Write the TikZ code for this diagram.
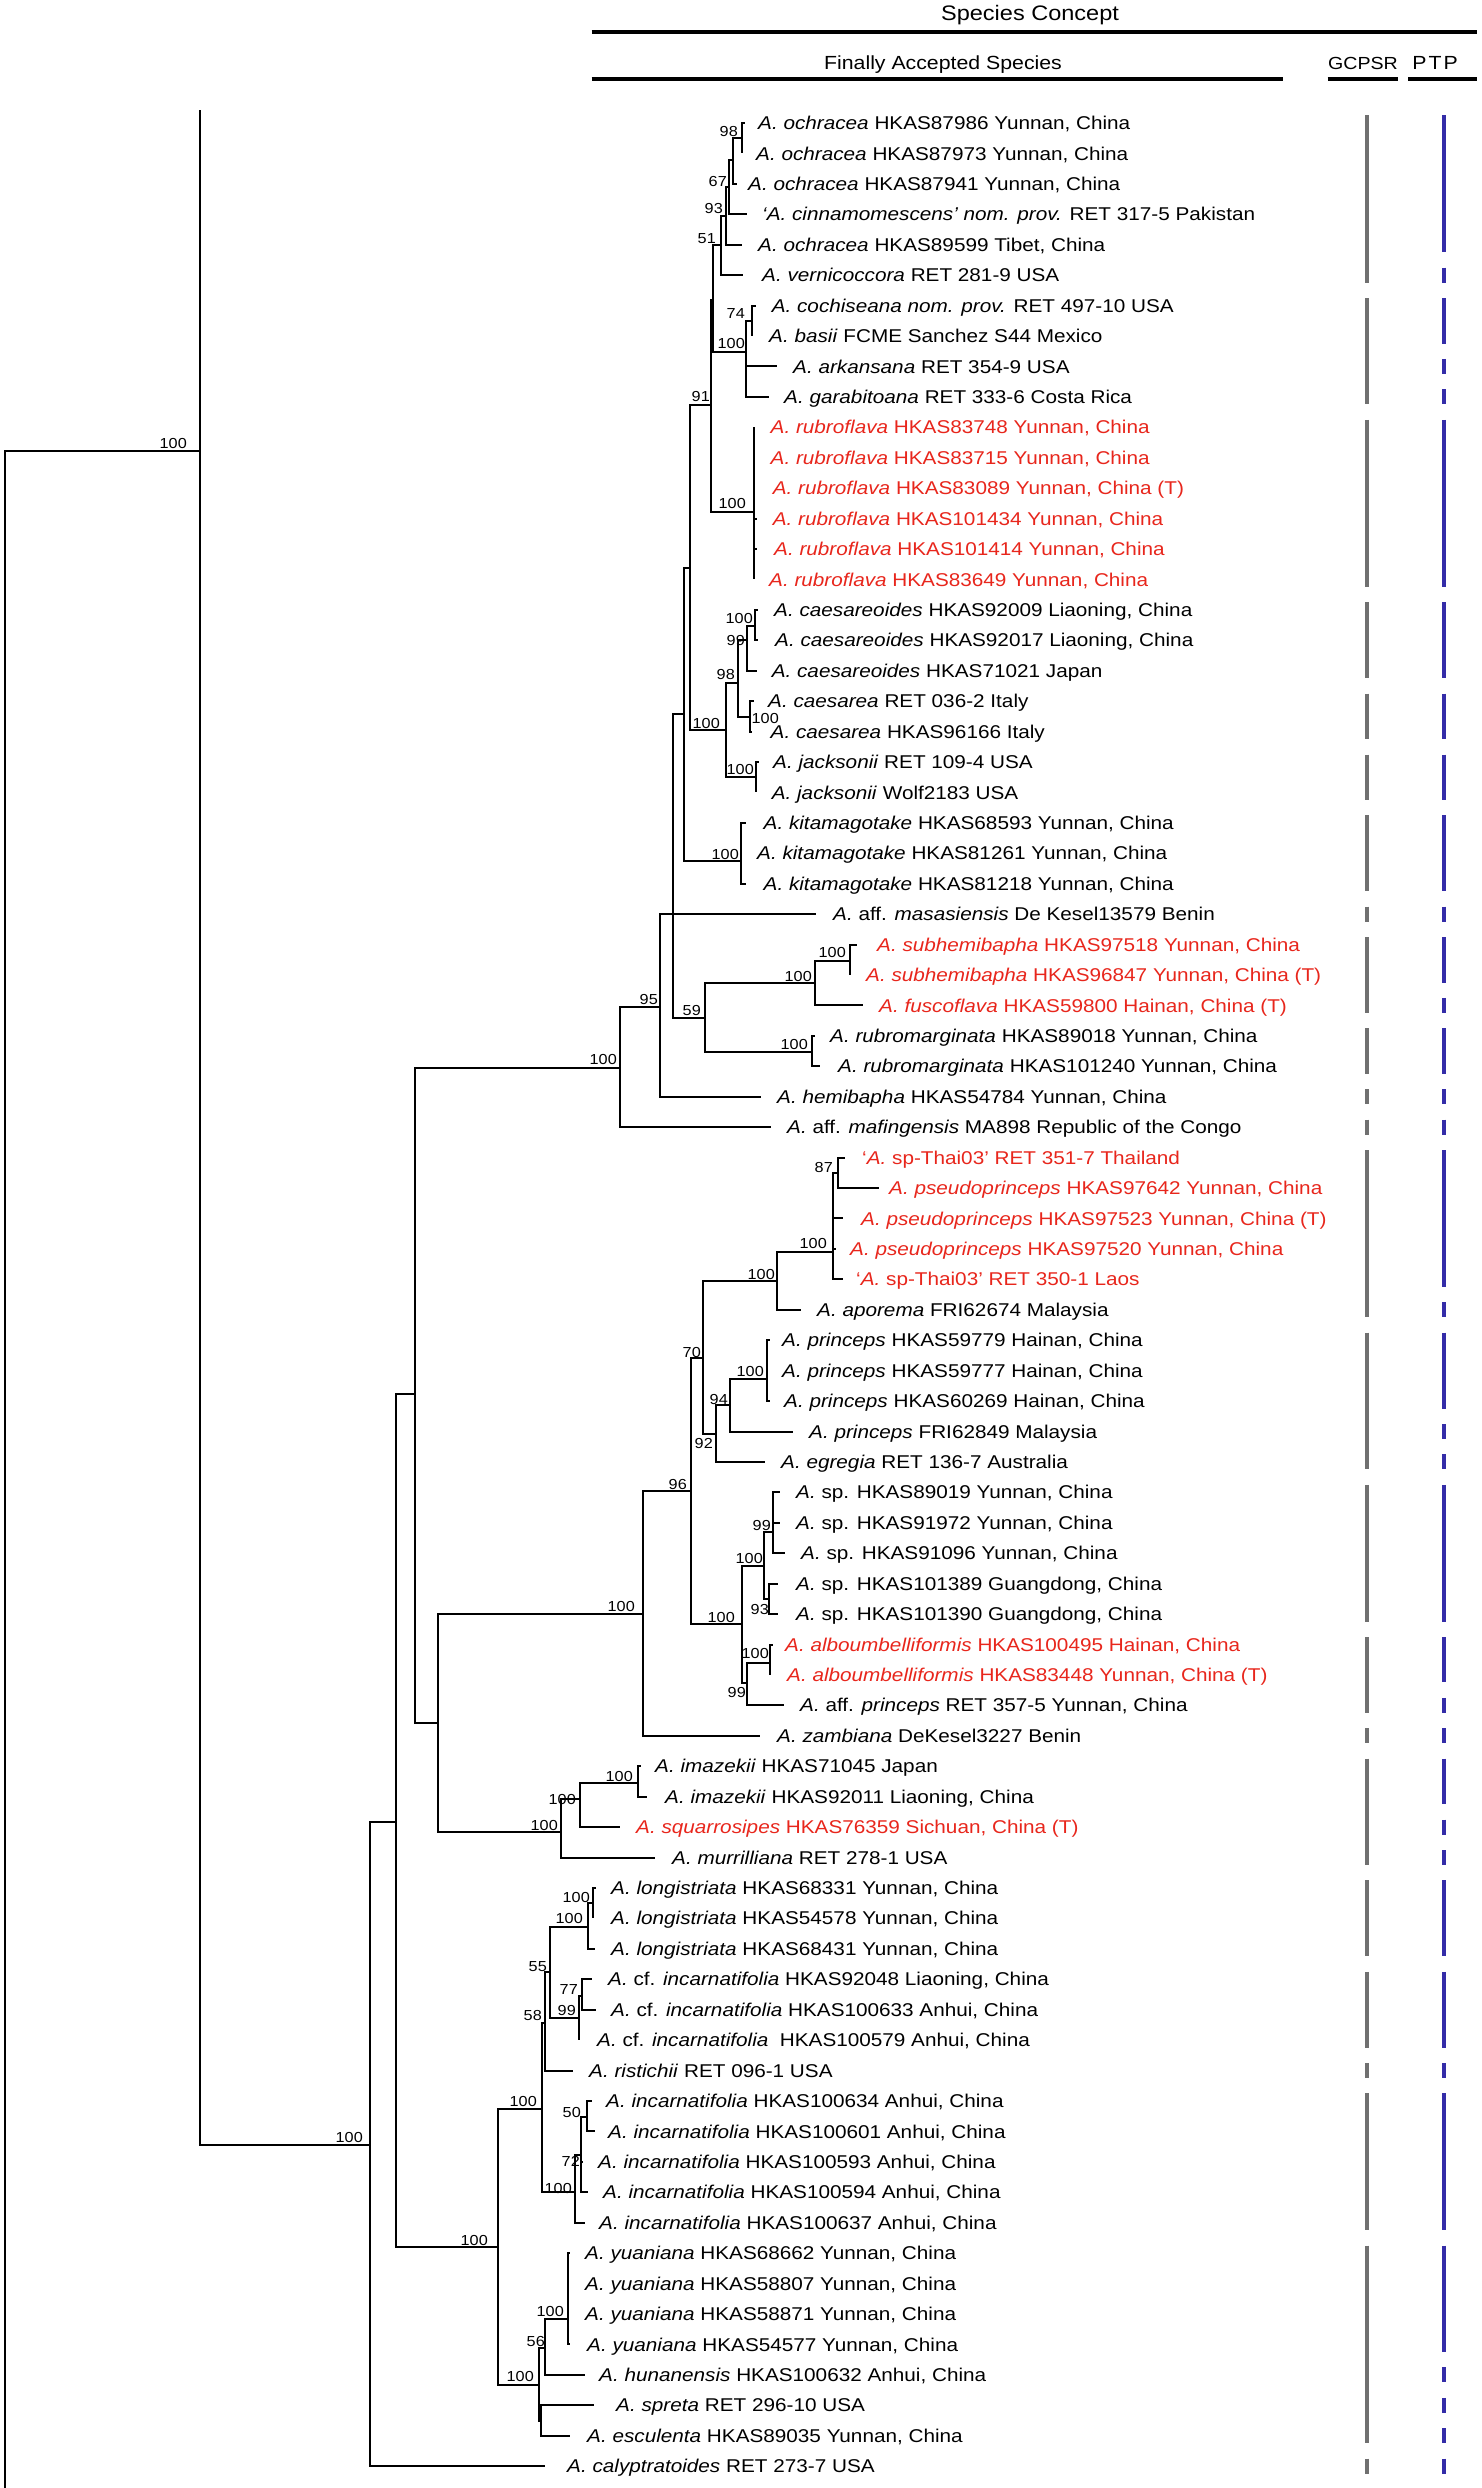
\documentclass[tikz,border=0pt]{standalone}
\usepackage{fontspec}
\setmainfont{Liberation Sans}[FakeStretch=1.12]
\definecolor{tred}{RGB}{232,38,28}
\definecolor{gcol}{RGB}{112,112,112}
\definecolor{pcol}{RGB}{52,44,168}
\newcommand\rowy[1]{123+(#1-1)*30.43}
\newcommand\mkleaf[4][black]{\node[lab,text=#1] (L#2) at (#3,{\rowy{#2}+6.6}) {#4};}
\newcommand\mktip[2]{\coordinate (T#1) at (#2,{\rowy{#1}});}
\newcommand\mknode[3]{\coordinate (#1) at (#2,#3);}
\newcommand\mkkids[2]{\foreach \kid in {#2}{\draw[br] (#1) |- (\kid);}}
\newcommand\mksup[4]{\node[suplab] (#1) at (#2,{#3+5.2}) {#4};}
\newcommand\mkbar[4]{\draw[#1] (#2,{\rowy{#3}-7.5}) -- (#2,{\rowy{#4}+7.5});}
\begin{document}
\begin{tikzpicture}[x=1pt,y=-1pt,
  br/.style={line width=2pt,line join=miter},
  lab/.style={anchor=base west,inner sep=0pt,font=\fontsize{18.5}{21}\selectfont},
  suplab/.style={anchor=base east,inner sep=0pt,font=\fontsize{14.5}{16}\selectfont},
  hd1/.style={anchor=base,inner sep=0pt,font=\fontsize{21}{24}\selectfont},
  hd2/.style={anchor=base,inner sep=0pt,font=\fontsize{19}{21}\selectfont},
  hl/.style={line width=4.5pt},
  gbar/.style={line width=3.8pt,gcol},
  pbar/.style={line width=3.8pt,pcol}]
\useasboundingbox (0,0) rectangle (1482,2488);
\fill[white] (0,0) rectangle (1482,2488);

% ---------- header ----------
\node[hd1] (hSC) at (1030,21) {Species Concept};
\node[hd2] (hFA) at (943,70) {Finally Accepted Species};
\node[hd2,font=\fontsize{17.5}{20}\selectfont] (hG) at (1363,70) {GCPSR};
\node[hd2] (hP) at (1435,70) {P\hspace{2pt}T\hspace{2pt}P};
\draw[hl] (591.5,32) -- (1477,32);
\draw[hl] (591.5,79) -- (1283,79);
\draw[hl] (1327.5,79) -- (1398,79);
\draw[hl] (1408,79) -- (1477,79);

% ---------- internal nodes ----------
\mknode{R0}{5}{2488}
\mknode{N200}{200}{451}
\mknode{Ntop}{200}{110}
\mknode{N370}{370}{2145}
\mknode{N396}{396}{1822}
\mknode{N415}{415}{1394}
\mknode{N620}{620}{1068}
\mknode{N660}{660}{1007}
\mknode{N673}{673}{914.2}
\mknode{N683}{683.5}{714}
\mknode{N690}{690}{567.5}
\mknode{N711}{711}{405}
\mknode{N713}{713}{300}
\mknode{N720}{720.7}{245.5}
\mknode{N726a}{726}{216}
\mknode{N729}{729}{187}
\mknode{N733}{733}{160.5}
\mknode{N742}{742}{138}
\mknode{N746}{746}{352}
\mknode{N752}{752}{321}
\mknode{N754}{754}{512}
\mknode{N726}{726}{730}
\mknode{N738}{738}{683}
\mknode{N747}{747}{640}
\mknode{N755}{755}{626}
\mknode{N750}{750}{717}
\mknode{N756}{756}{777}
\mknode{N741}{741}{861}
\mknode{N705}{705}{1018}
\mknode{N815}{815}{983}
\mknode{N850}{850}{961}
\mknode{N812}{812}{1052}
\mknode{N438}{438}{1723}
\mknode{N643}{643}{1614}
\mknode{N691}{691}{1491}
\mknode{N703}{703}{1358}
\mknode{N777}{777}{1281}
\mknode{N833}{833}{1252}
\mknode{N838}{838}{1173}
\mknode{N716}{716}{1434}
\mknode{N730}{730}{1405}
\mknode{N767}{767}{1379}
\mknode{N742b}{742}{1624}
\mknode{N764}{764}{1566}
\mknode{N773}{773}{1532}
\mknode{N769}{769}{1599}
\mknode{N747b}{747}{1683}
\mknode{N770}{770}{1663}
\mknode{N561}{561}{1832}
\mknode{N580}{580}{1799}
\mknode{N638}{638}{1783}
\mknode{N498}{498}{2247}
\mknode{N542}{542}{2109}
\mknode{N545}{545}{2023}
\mknode{N550}{550}{1972}
\mknode{N588}{588}{1927}
\mknode{N593}{593}{1903}
\mknode{N579}{579}{2018}
\mknode{N582}{582}{1996}
\mknode{N575}{575}{2192}
\mknode{N581}{581}{2155}
\mknode{N587}{587}{2117}
\mknode{N539}{539}{2385}
\mknode{N545b}{545}{2348}
\mknode{N568}{568}{2319}
\mknode{N541}{541}{2421}

% ---------- tips ----------
\mktip{1}{745}\mktip{2}{742}\mktip{3}{737}\mktip{4}{747}\mktip{5}{742}\mktip{6}{743}
\mktip{7}{756}\mktip{8}{752}\mktip{9}{777}\mktip{10}{769}
\mktip{11}{754}\mktip{12}{754}\mktip{13}{754}\mktip{14}{757}\mktip{15}{757}\mktip{16}{754}
\mktip{17}{758}\mktip{18}{758}\mktip{19}{757}\mktip{20}{754}\mktip{21}{752}
\mktip{22}{759}\mktip{23}{756}\mktip{24}{746}\mktip{25}{741}\mktip{26}{746}
\mktip{27}{816}\mktip{28}{857}\mktip{29}{850}\mktip{30}{863}\mktip{31}{815}\mktip{32}{820}
\mktip{33}{761}\mktip{34}{771}\mktip{35}{845}\mktip{36}{879}\mktip{37}{843}\mktip{38}{836}
\mktip{39}{843}\mktip{40}{801}\mktip{41}{770}\mktip{42}{767}\mktip{43}{770}\mktip{44}{793}
\mktip{45}{765}\mktip{46}{780}\mktip{47}{780}\mktip{48}{785}\mktip{49}{778}\mktip{50}{778}
\mktip{51}{773}\mktip{52}{770}\mktip{53}{784}\mktip{54}{760}\mktip{55}{641}\mktip{56}{647}
\mktip{57}{620}\mktip{58}{655}\mktip{59}{596}\mktip{60}{593}\mktip{61}{595}\mktip{62}{592}
\mktip{63}{596}\mktip{64}{579}\mktip{65}{573}\mktip{66}{592}\mktip{67}{595}\mktip{68}{583}
\mktip{69}{588}\mktip{70}{585}\mktip{71}{570}\mktip{72}{568}\mktip{73}{568}\mktip{74}{570}
\mktip{75}{585}\mktip{76}{594}\mktip{77}{570}\mktip{78}{545}

% ---------- branches ----------
\draw[br] (R0) |- (N200);
\draw[br] (N200) -- (Ntop);
\mkkids{N200}{N370}
\mkkids{N370}{N396,T78}
\mkkids{N396}{N415,N498}
\mkkids{N415}{N620,N438}
\mkkids{N620}{N660,T34}
\mkkids{N660}{N673,T33}
\mkkids{N673}{N683,T27,N705}
\mkkids{N683}{N690,N741}
\mkkids{N690}{N711,N726}
\mkkids{N711}{N713,N754}
\mkkids{N713}{N720,N746}
\mkkids{N720}{N726a,T6}
\mkkids{N726a}{N729,T5}
\mkkids{N729}{N733,T4}
\mkkids{N733}{N742,T3}
\mkkids{N742}{T1,T2}
\mkkids{N746}{N752,T9,T10}
\mkkids{N752}{T7,T8}
\mkkids{N754}{T11,T12,T13,T14,T15,T16}
\mkkids{N726}{N738,N756}
\mkkids{N738}{N747,N750}
\mkkids{N747}{N755,T19}
\mkkids{N755}{T17,T18}
\mkkids{N750}{T20,T21}
\mkkids{N756}{T22,T23}
\mkkids{N741}{T24,T25,T26}
\mkkids{N705}{N815,N812}
\mkkids{N815}{N850,T30}
\mkkids{N850}{T28,T29}
\mkkids{N812}{T31,T32}
\mkkids{N438}{N643,N561}
\mkkids{N643}{N691,T54}
\mkkids{N691}{N703,N742b}
\mkkids{N703}{N777,N716}
\mkkids{N777}{N833,T40}
\mkkids{N833}{N838,T37,T38,T39}
\mkkids{N838}{T35,T36}
\mkkids{N716}{N730,T45}
\mkkids{N730}{N767,T44}
\mkkids{N767}{T41,T42,T43}
\mkkids{N742b}{N764,N747b}
\mkkids{N764}{N773,N769}
\mkkids{N773}{T46,T47,T48}
\mkkids{N769}{T49,T50}
\mkkids{N747b}{N770,T53}
\mkkids{N770}{T51,T52}
\mkkids{N561}{N580,T58}
\mkkids{N580}{N638,T57}
\mkkids{N638}{T55,T56}
\mkkids{N498}{N542,N539}
\mkkids{N542}{N545,N575}
\mkkids{N545}{N550,T65}
\mkkids{N550}{N588,N579}
\mkkids{N588}{N593,T61}
\mkkids{N593}{T59,T60}
\mkkids{N579}{N582,T64}
\mkkids{N582}{T62,T63}
\mkkids{N575}{N581,T70}
\mkkids{N581}{N587,T68,T69}
\mkkids{N587}{T66,T67}
\mkkids{N539}{N545b,N541}
\mkkids{N545b}{N568,T75}
\mkkids{N568}{T71,T72,T73,T74}
\mkkids{N541}{T76,T77}

% ---------- support values ----------
\mksup{s1}{187}{443}{100}
\mksup{s2}{738}{131}{98}
\mksup{s3}{727}{181}{67}
\mksup{s4}{723}{208}{93}
\mksup{s5}{716}{238}{51}
\mksup{s6}{745}{313}{74}
\mksup{s7}{745}{343}{100}
\mksup{s8}{710}{396}{91}
\mksup{s9}{746}{503}{100}
\mksup{s10}{753}{618}{100}
\mksup{s11}{745}{640}{99}
\mksup{s12}{735}{674}{98}
\mksup{s13}{779}{718}{100}
\mksup{s14}{720}{723}{100}
\mksup{s15}{754}{769}{100}
\mksup{s16}{739}{854}{100}
\mksup{s17}{846}{952}{100}
\mksup{s18}{812}{976}{100}
\mksup{s19}{658}{999}{95}
\mksup{s20}{701}{1010}{59}
\mksup{s21}{808}{1044}{100}
\mksup{s22}{617}{1059}{100}
\mksup{s23}{833}{1167}{87}
\mksup{s24}{827}{1243}{100}
\mksup{s25}{775}{1274}{100}
\mksup{s26}{701}{1352}{70}
\mksup{s27}{764}{1371}{100}
\mksup{s28}{728}{1399}{94}
\mksup{s29}{713}{1443}{92}
\mksup{s30}{687}{1484}{96}
\mksup{s31}{771}{1525}{99}
\mksup{s32}{763}{1558}{100}
\mksup{s33}{769}{1609}{93}
\mksup{s34}{635}{1606}{100}
\mksup{s35}{735}{1617}{100}
\mksup{s36}{769}{1653}{100}
\mksup{s37}{746}{1692}{99}
\mksup{s38}{633}{1776}{100}
\mksup{s39}{576}{1799}{100}
\mksup{s40}{558}{1825}{100}
\mksup{s41}{590}{1897}{100}
\mksup{s42}{583}{1918}{100}
\mksup{s43}{547}{1966}{55}
\mksup{s44}{578}{1989}{77}
\mksup{s45}{576}{2010}{99}
\mksup{s46}{542}{2015}{58}
\mksup{s47}{537}{2101}{100}
\mksup{s48}{581}{2112}{50}
\mksup{s49}{580}{2161}{72}
\mksup{s50}{572}{2188}{100}
\mksup{s51}{488}{2240}{100}
\mksup{s52}{564}{2311}{100}
\mksup{s53}{545}{2341}{56}
\mksup{s54}{534}{2376}{100}
\mksup{s55}{363}{2137}{100}

% ---------- taxon labels ----------
\mkleaf{1}{758}{\textit{A. ochracea} HKAS87986 Yunnan, China}
\mkleaf{2}{756}{\textit{A. ochracea} HKAS87973 Yunnan, China}
\mkleaf{3}{748}{\textit{A. ochracea} HKAS87941 Yunnan, China}
\mkleaf{4}{762}{\textit{‘A. cinnamomescens’ nom. prov.} RET 317-5 Pakistan}
\mkleaf{5}{758}{\textit{A. ochracea} HKAS89599 Tibet, China}
\mkleaf{6}{762}{\textit{A. vernicoccora} RET 281-9 USA}
\mkleaf{7}{771.6}{\textit{A. cochiseana nom. prov.} RET 497-10 USA}
\mkleaf{8}{769}{\textit{A. basii} FCME Sanchez S44 Mexico}
\mkleaf{9}{793}{\textit{A. arkansana} RET 354-9 USA}
\mkleaf{10}{784}{\textit{A. garabitoana} RET 333-6 Costa Rica}
\mkleaf[tred]{11}{770.5}{\textit{A. rubroflava} HKAS83748 Yunnan, China}
\mkleaf[tred]{12}{770.5}{\textit{A. rubroflava} HKAS83715 Yunnan, China}
\mkleaf[tred]{13}{772.6}{\textit{A. rubroflava} HKAS83089 Yunnan, China (T)}
\mkleaf[tred]{14}{772.6}{\textit{A. rubroflava} HKAS101434 Yunnan, China}
\mkleaf[tred]{15}{774}{\textit{A. rubroflava} HKAS101414 Yunnan, China}
\mkleaf[tred]{16}{769}{\textit{A. rubroflava} HKAS83649 Yunnan, China}
\mkleaf{17}{774}{\textit{A. caesareoides} HKAS92009 Liaoning, China}
\mkleaf{18}{775}{\textit{A. caesareoides} HKAS92017 Liaoning, China}
\mkleaf{19}{771.6}{\textit{A. caesareoides} HKAS71021 Japan}
\mkleaf{20}{768}{\textit{A. caesarea} RET 036-2 Italy}
\mkleaf{21}{770.5}{\textit{A. caesarea} HKAS96166 Italy}
\mkleaf{22}{773}{\textit{A. jacksonii} RET 109-4 USA}
\mkleaf{23}{771.6}{\textit{A. jacksonii} Wolf2183 USA}
\mkleaf{24}{763.5}{\textit{A. kitamagotake} HKAS68593 Yunnan, China}
\mkleaf{25}{757}{\textit{A. kitamagotake} HKAS81261 Yunnan, China}
\mkleaf{26}{763.5}{\textit{A. kitamagotake} HKAS81218 Yunnan, China}
\mkleaf{27}{833}{\textit{A.} aff. \textit{masasiensis} De Kesel13579 Benin}
\mkleaf[tred]{28}{877}{\textit{A. subhemibapha} HKAS97518 Yunnan, China}
\mkleaf[tred]{29}{866}{\textit{A. subhemibapha} HKAS96847 Yunnan, China (T)}
\mkleaf[tred]{30}{879}{\textit{A. fuscoflava} HKAS59800 Hainan, China (T)}
\mkleaf{31}{830}{\textit{A. rubromarginata} HKAS89018 Yunnan, China}
\mkleaf{32}{838}{\textit{A. rubromarginata} HKAS101240 Yunnan, China}
\mkleaf{33}{777}{\textit{A. hemibapha} HKAS54784 Yunnan, China}
\mkleaf{34}{787}{\textit{A.} aff. \textit{mafingensis} MA898 Republic of the Congo}
\mkleaf[tred]{35}{862}{‘\textit{A.} sp-Thai03’ RET 351-7 Thailand}
\mkleaf[tred]{36}{889}{\textit{A. pseudoprinceps} HKAS97642 Yunnan, China}
\mkleaf[tred]{37}{861}{\textit{A. pseudoprinceps} HKAS97523 Yunnan, China (T)}
\mkleaf[tred]{38}{850}{\textit{A. pseudoprinceps} HKAS97520 Yunnan, China}
\mkleaf[tred]{39}{856}{‘\textit{A.} sp-Thai03’ RET 350-1 Laos}
\mkleaf{40}{817}{\textit{A. aporema} FRI62674 Malaysia}
\mkleaf{41}{782}{\textit{A. princeps} HKAS59779 Hainan, China}
\mkleaf{42}{782}{\textit{A. princeps} HKAS59777 Hainan, China}
\mkleaf{43}{784}{\textit{A. princeps} HKAS60269 Hainan, China}
\mkleaf{44}{809}{\textit{A. princeps} FRI62849 Malaysia}
\mkleaf{45}{781}{\textit{A. egregia} RET 136-7 Australia}
\mkleaf{46}{796}{\textit{A.} sp. HKAS89019 Yunnan, China}
\mkleaf{47}{796}{\textit{A.} sp. HKAS91972 Yunnan, China}
\mkleaf{48}{801}{\textit{A.} sp. HKAS91096 Yunnan, China}
\mkleaf{49}{796}{\textit{A.} sp. HKAS101389 Guangdong, China}
\mkleaf{50}{796}{\textit{A.} sp. HKAS101390 Guangdong, China}
\mkleaf[tred]{51}{785}{\textit{A. alboumbelliformis} HKAS100495 Hainan, China}
\mkleaf[tred]{52}{787}{\textit{A. alboumbelliformis} HKAS83448 Yunnan, China (T)}
\mkleaf{53}{800}{\textit{A.} aff. \textit{princeps} RET 357-5 Yunnan, China}
\mkleaf{54}{777}{\textit{A. zambiana} DeKesel3227 Benin}
\mkleaf{55}{655}{\textit{A. imazekii} HKAS71045 Japan}
\mkleaf{56}{665}{\textit{A. imazekii} HKAS92011 Liaoning, China}
\mkleaf[tred]{57}{636}{\textit{A. squarrosipes} HKAS76359 Sichuan, China (T)}
\mkleaf{58}{672}{\textit{A. murrilliana} RET 278-1 USA}
\mkleaf{59}{611}{\textit{A. longistriata} HKAS68331 Yunnan, China}
\mkleaf{60}{611}{\textit{A. longistriata} HKAS54578 Yunnan, China}
\mkleaf{61}{611}{\textit{A. longistriata} HKAS68431 Yunnan, China}
\mkleaf{62}{608}{\textit{A.} cf. \textit{incarnatifolia} HKAS92048 Liaoning, China}
\mkleaf{63}{611}{\textit{A.} cf. \textit{incarnatifolia} HKAS100633 Anhui, China}
\mkleaf{64}{597}{\textit{A.} cf. \textit{incarnatifolia}\ \ HKAS100579 Anhui, China}
\mkleaf{65}{589}{\textit{A. ristichii} RET 096-1 USA}
\mkleaf{66}{606}{\textit{A. incarnatifolia} HKAS100634 Anhui, China}
\mkleaf{67}{608}{\textit{A. incarnatifolia} HKAS100601 Anhui, China}
\mkleaf{68}{598}{\textit{A. incarnatifolia} HKAS100593 Anhui, China}
\mkleaf{69}{603}{\textit{A. incarnatifolia} HKAS100594 Anhui, China}
\mkleaf{70}{599}{\textit{A. incarnatifolia} HKAS100637 Anhui, China}
\mkleaf{71}{585}{\textit{A. yuaniana} HKAS68662 Yunnan, China}
\mkleaf{72}{585}{\textit{A. yuaniana} HKAS58807 Yunnan, China}
\mkleaf{73}{585}{\textit{A. yuaniana} HKAS58871 Yunnan, China}
\mkleaf{74}{587}{\textit{A. yuaniana} HKAS54577 Yunnan, China}
\mkleaf{75}{599}{\textit{A. hunanensis} HKAS100632 Anhui, China}
\mkleaf{76}{616}{\textit{A. spreta} RET 296-10 USA}
\mkleaf{77}{587}{\textit{A. esculenta} HKAS89035 Yunnan, China}
\mkleaf{78}{567}{\textit{A. calyptratoides} RET 273-7 USA}

% ---------- species delimitation bars ----------
\foreach \a/\b in {1/6,7/10,11/16,17/19,20/21,22/23,24/26,27/27,28/30,31/32,33/33,34/34,35/40,41/45,46/50,51/53,54/54,55/58,59/61,62/64,65/65,66/70,71/77,78/78}
  {\mkbar{gbar}{1367}{\a}{\b}}
\foreach \a/\b in {1/5,6/6,7/8,9/9,10/10,11/16,17/19,20/21,22/23,24/26,27/27,28/29,30/30,31/32,33/33,34/34,35/39,40/40,41/43,44/44,45/45,46/50,51/52,53/53,54/54,55/56,57/57,58/58,59/61,62/64,65/65,66/70,71/74,75/75,76/76,77/77,78/78}
  {\mkbar{pbar}{1444}{\a}{\b}}
\end{tikzpicture}
\end{document}
